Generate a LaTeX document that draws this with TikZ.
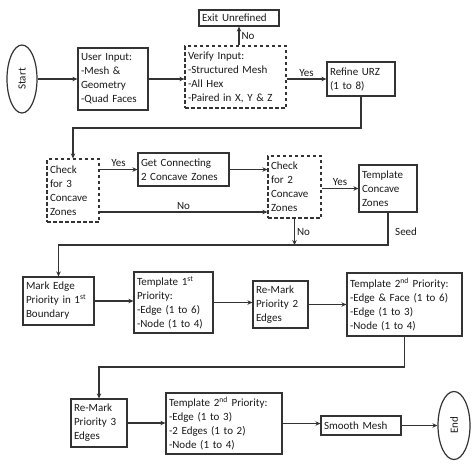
\documentclass[tikz,border=0pt]{standalone}
\usepackage{graphicx}
\usepackage{fontspec}
\setmainfont{Carlito}
\usepackage{tikz}
\usetikzlibrary{arrows.meta}
\usetikzlibrary{shapes.geometric}

\tikzset{
  box/.style={draw=black!80, line width=1.2pt, align=left, inner xsep=3pt, inner ysep=1pt, text=black!90},
  dbox/.style={box, dash pattern=on 3.5pt off 2.5pt},
  term/.style={draw=black!80, line width=1.2pt, ellipse, inner sep=0pt, text=black!90},
  arr/.style={draw=black!80, line width=1.2pt, -{Stealth[length=5pt, width=4.5pt]}},
  lbl/.style={text=black!90, inner sep=2pt},
}

\begin{document}
\begin{tikzpicture}[x=1pt, y=-1pt, font=\fontsize{11}{14}\selectfont]
    \useasboundingbox (0,0) rectangle (474,467);
    % first row
    \node[term, minimum width=30pt, minimum height=68pt] (start) at (22,79) {\rotatebox{90}{Start}};
    \node[box, text width=64pt, minimum height=62pt] (user) at (113,79)
      {User Input:\\-Mesh \&\\Geometry\\-Quad Faces};
    \node[dbox, text width=95pt, minimum height=62pt] (verify) at (235.5,77)
      {Verify Input:\\-Structured Mesh\\-All Hex\\-Paired in X, Y \& Z};
    \node[box, text width=74pt, minimum height=16pt] (exit) at (239,18) {Exit Unrefined};
    \node[box, text width=62pt, minimum height=34pt] (refine) at (361,79) {Refine URZ\\(1 to 8)};
    % concave zones
    \node[dbox, text width=46pt, minimum height=63pt] (check3) at (73,190.5)
      {Check\\for 3\\Concave\\Zones};
    \node[box, text width=85pt, minimum height=33pt] (connect) at (183.5,169.5)
      {Get Connecting\\2 Concave Zones};
    \node[dbox, text width=47pt, minimum height=62pt] (check2) at (294.5,187)
      {Check\\for 2\\Concave\\Zones};
    \node[box, text width=52pt, minimum height=47pt] (concave) at (388,188.5)
      {Template\\Concave\\Zones};
    % priorities
    \node[box, text width=65pt, minimum height=48pt] (mark) at (58.5,301)
      {Mark Edge\\Priority in 1\textsuperscript{st}\\Boundary};
    \node[box, text width=73pt, minimum height=61pt] (first) at (173.5,302.5)
      {Template 1\textsuperscript{st}\\Priority:\\-Edge (1 to 6)\\-Node (1 to 4)};
    \node[box, text width=49pt, minimum height=47pt] (remarktwo) at (280.5,304.5)
      {Re-Mark\\Priority 2\\Edges};
    \node[box, text width=109pt, minimum height=63pt] (seconda) at (404.5,304.5)
      {Template 2\textsuperscript{nd} Priority:\\-Edge \& Face (1 to 6)\\-Edge (1 to 3)\\-Node (1 to 4)};
    % last row
    \node[box, text width=50pt, minimum height=48pt] (remarkthree) at (99,423)
      {Re-Mark\\Priority 3\\Edges};
    \node[box, text width=110pt, minimum height=61pt] (secondb) at (224,423.5)
      {Template 2\textsuperscript{nd} Priority:\\-Edge (1 to 3)\\-2 Edges (1 to 2)\\-Node (1 to 4)};
    \node[box, text width=74pt, minimum height=19pt] (smooth) at (361,425.5) {Smooth Mesh};
    \node[term, minimum width=32pt, minimum height=68pt] (end) at (454,425.5) {\rotatebox{90}{End}};
    % bends
    \coordinate (bendone) at (200,128);
    \coordinate (nolevel) at (0,212);
    \coordinate (bendtwo) at (200,245);
    \coordinate (bendthree) at (200,367);
    % connectors
    \draw[arr] (start) -- (user.west);
    \draw[arr] (user.east) -- (user.east -| verify.west);
    \draw[arr] (exit.south |- verify.north) -- (exit.south) node[lbl, midway, right] {No};
    \draw[arr] (verify.east |- refine.west) -- (refine.west) node[lbl, midway, above] {Yes};
    \draw[arr] (refine.south) |- (bendone) -| (check3.north);
    \draw[arr] (check3.east |- connect.west) -- (connect.west) node[lbl, midway, above] {Yes};
    \draw[arr] (connect.east) -- (connect.east -| check2.west);
    \draw[arr] (check3.east |- nolevel) -- (check2.west |- nolevel) node[lbl, midway, above] {No};
    \draw[arr] (check2.east |- concave.west) -- (concave.west) node[lbl, midway, above] {Yes};
    \draw[arr] (check2.south) -- (check2.south |- bendtwo) node[lbl, midway, right] {No};
    \draw[arr] (concave.south) |- (bendtwo) -| (mark.north);
    \node[lbl, anchor=west] (seed) at (393,232) {Seed};
    \draw[arr] (mark.east) -- (mark.east -| first.west);
    \draw[arr] (first.east) -- (first.east -| remarktwo.west);
    \draw[arr] (remarktwo.east) -- (remarktwo.east -| seconda.west);
    \draw[arr] (seconda.south) |- (bendthree) -| (remarkthree.north);
    \draw[arr] (remarkthree.east) -- (remarkthree.east -| secondb.west);
    \draw[arr] (secondb.east) -- (secondb.east -| smooth.west);
    \draw[arr] (smooth.east) -- (end);
  \end{tikzpicture}
\end{document}
